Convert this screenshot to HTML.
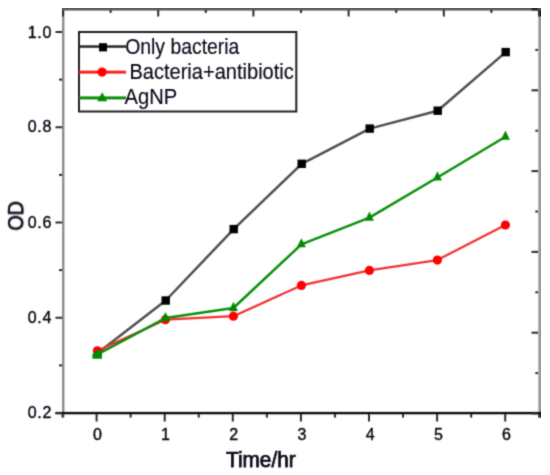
<!DOCTYPE html>
<html><head><meta charset="utf-8"><title>OD vs Time</title>
<style>
html,body{margin:0;padding:0;background:#fff;}
svg{display:block;}
text{font-family:"Liberation Sans",Arial,sans-serif;fill:#0c0818;stroke-linejoin:round;}
.ti{stroke:#0c0818;stroke-width:0.75px;}
.lg{stroke:#0c0818;stroke-width:0.15px;}
.tl{fill:#0a0616;stroke:#0a0616;stroke-width:0.4px;}
</style></head>
<body>
<svg width="550" height="475" viewBox="0 0 550 475">
<rect width="550" height="475" fill="#fff"/>
<defs><filter id="b" x="0" y="0" width="100%" height="100%" color-interpolation-filters="sRGB"><feConvolveMatrix order="3" kernelMatrix="1 4 1 4 16 4 1 4 1" divisor="36" edgeMode="duplicate"/></filter></defs><g filter="url(#b)">
<rect x="62" y="9" width="2.4" height="408.5" fill="#8d8d8d"/>
<rect x="538.3" y="9" width="2.4" height="408.5" fill="#9a9a9a"/>
<rect x="62" y="8.6" width="478.5" height="2" fill="#606060"/>
<rect x="55.5" y="411.9" width="485" height="2.4" fill="#0e0e0e"/>
<rect x="95.6" y="414" width="2" height="7.5" fill="#2c2c2c"/>
<rect x="163.7" y="414" width="2" height="7.5" fill="#2c2c2c"/>
<rect x="231.8" y="414" width="2" height="7.5" fill="#2c2c2c"/>
<rect x="299.9" y="414" width="2" height="7.5" fill="#2c2c2c"/>
<rect x="368" y="414" width="2" height="7.5" fill="#2c2c2c"/>
<rect x="436.1" y="414" width="2" height="7.5" fill="#2c2c2c"/>
<rect x="504.2" y="414" width="2" height="7.5" fill="#2c2c2c"/>
<rect x="61.55" y="414" width="2" height="3.6" fill="#2c2c2c"/>
<rect x="129.65" y="414" width="2" height="3.6" fill="#2c2c2c"/>
<rect x="197.75" y="414" width="2" height="3.6" fill="#2c2c2c"/>
<rect x="265.85" y="414" width="2" height="3.6" fill="#2c2c2c"/>
<rect x="333.95" y="414" width="2" height="3.6" fill="#2c2c2c"/>
<rect x="402.05" y="414" width="2" height="3.6" fill="#2c2c2c"/>
<rect x="470.15" y="414" width="2" height="3.6" fill="#2c2c2c"/>
<rect x="538.25" y="414" width="2" height="3.6" fill="#2c2c2c"/>
<rect x="55.5" y="412" width="6.6" height="2" fill="#2c2c2c"/>
<rect x="55.5" y="316.75" width="6.6" height="2" fill="#2c2c2c"/>
<rect x="55.5" y="221.5" width="6.6" height="2" fill="#2c2c2c"/>
<rect x="55.5" y="126.25" width="6.6" height="2" fill="#2c2c2c"/>
<rect x="55.5" y="31" width="6.6" height="2" fill="#2c2c2c"/>
<rect x="59" y="364.38" width="3.1" height="2" fill="#2c2c2c"/>
<rect x="59" y="269.12" width="3.1" height="2" fill="#2c2c2c"/>
<rect x="59" y="173.88" width="3.1" height="2" fill="#2c2c2c"/>
<rect x="59" y="78.62" width="3.1" height="2" fill="#2c2c2c"/>
<rect x="62" y="10" width="2" height="6.5" fill="#2c2c2c"/>
<rect x="157.2" y="10" width="2" height="6.5" fill="#2c2c2c"/>
<rect x="252.4" y="10" width="2" height="6.5" fill="#2c2c2c"/>
<rect x="347.6" y="10" width="2" height="6.5" fill="#2c2c2c"/>
<rect x="442.8" y="10" width="2" height="6.5" fill="#2c2c2c"/>
<rect x="538" y="10" width="2" height="6.5" fill="#2c2c2c"/>
<rect x="109.6" y="10" width="2" height="3" fill="#2c2c2c"/>
<rect x="204.8" y="10" width="2" height="3" fill="#2c2c2c"/>
<rect x="300" y="10" width="2" height="3" fill="#2c2c2c"/>
<rect x="395.2" y="10" width="2" height="3" fill="#2c2c2c"/>
<rect x="490.4" y="10" width="2" height="3" fill="#2c2c2c"/>
<rect x="531.5" y="8.5" width="6.5" height="2" fill="#2c2c2c"/>
<rect x="531.5" y="89.3" width="6.5" height="2" fill="#2c2c2c"/>
<rect x="531.5" y="170.1" width="6.5" height="2" fill="#2c2c2c"/>
<rect x="531.5" y="250.9" width="6.5" height="2" fill="#2c2c2c"/>
<rect x="531.5" y="331.7" width="6.5" height="2" fill="#2c2c2c"/>
<rect x="531.5" y="412.5" width="6.5" height="2" fill="#2c2c2c"/>
<rect x="535.3" y="48.9" width="2.7" height="2" fill="#2c2c2c"/>
<rect x="535.3" y="129.7" width="2.7" height="2" fill="#2c2c2c"/>
<rect x="535.3" y="210.5" width="2.7" height="2" fill="#2c2c2c"/>
<rect x="535.3" y="291.3" width="2.7" height="2" fill="#2c2c2c"/>
<rect x="535.3" y="372.1" width="2.7" height="2" fill="#2c2c2c"/>
<text x="97.35" y="439.5" text-anchor="middle" font-size="16" class="tl">0</text>
<text x="165.55" y="439.5" text-anchor="middle" font-size="16" class="tl">1</text>
<text x="233.75" y="439.5" text-anchor="middle" font-size="16" class="tl">2</text>
<text x="301.95" y="439.5" text-anchor="middle" font-size="16" class="tl">3</text>
<text x="370.15" y="439.5" text-anchor="middle" font-size="16" class="tl">4</text>
<text x="438.35" y="439.5" text-anchor="middle" font-size="16" class="tl">5</text>
<text x="506.55" y="439.5" text-anchor="middle" font-size="16" class="tl">6</text>
<text x="51.4" y="37.8" text-anchor="end" font-size="16" class="tl" textLength="23.6" lengthAdjust="spacing">1.0</text>
<text x="51.4" y="132.3" text-anchor="end" font-size="16" class="tl" textLength="23.6" lengthAdjust="spacing">0.8</text>
<text x="51.4" y="227.9" text-anchor="end" font-size="16" class="tl" textLength="23.6" lengthAdjust="spacing">0.6</text>
<text x="51.4" y="322.7" text-anchor="end" font-size="16" class="tl" textLength="23.6" lengthAdjust="spacing">0.4</text>
<text x="51.4" y="417.8" text-anchor="end" font-size="16" class="tl" textLength="23.6" lengthAdjust="spacing">0.2</text>
<text x="226" y="466.8" font-size="21.2" class="ti" textLength="69.7" lengthAdjust="spacingAndGlyphs">Time/hr</text>
<text transform="translate(23.1,230.6) rotate(-90)" x="0" y="0" font-size="21.2" class="ti" textLength="29.6" lengthAdjust="spacingAndGlyphs">OD</text>
<polyline points="97.7,353 165.7,300.5 233.7,229.1 301.7,163.8 369.7,128.6 437.7,110.7 505.7,52.1" fill="none" stroke="#4f4f4f" stroke-width="2.5" stroke-linejoin="round"/>
<rect x="161.5" y="296.3" width="8.4" height="8.4" fill="#000"/>
<rect x="229.5" y="224.9" width="8.4" height="8.4" fill="#000"/>
<rect x="297.5" y="159.6" width="8.4" height="8.4" fill="#000"/>
<rect x="365.5" y="124.4" width="8.4" height="8.4" fill="#000"/>
<rect x="433.5" y="106.5" width="8.4" height="8.4" fill="#000"/>
<rect x="501.5" y="47.9" width="8.4" height="8.4" fill="#000"/>
<polyline points="97.4,350.8 165.4,319.7 233.4,316.2 301.4,285.4 369.4,270.4 437.4,260.1 505.4,225" fill="none" stroke="#f23030" stroke-width="2.2" stroke-linejoin="round"/>
<circle cx="97.4" cy="350.8" r="4.6" fill="#ff0000"/>
<circle cx="165.4" cy="319.7" r="4.6" fill="#ff0000"/>
<circle cx="233.4" cy="316.2" r="4.6" fill="#ff0000"/>
<circle cx="301.4" cy="285.4" r="4.6" fill="#ff0000"/>
<circle cx="369.4" cy="270.4" r="4.6" fill="#ff0000"/>
<circle cx="437.4" cy="260.1" r="4.6" fill="#ff0000"/>
<circle cx="505.4" cy="225" r="4.6" fill="#ff0000"/>
<polyline points="97.4,354.5 165.4,318.1 233.4,308 301.4,244.3 369.4,217.7 437.4,177.5 505.4,136.7" fill="none" stroke="#0a8f0a" stroke-width="2.5" stroke-linejoin="round"/>
<polygon points="165.4,311.97 169.9,321.17 160.9,321.17" fill="#008a00"/>
<polygon points="233.4,301.87 237.9,311.07 228.9,311.07" fill="#008a00"/>
<polygon points="301.4,238.17 305.9,247.37 296.9,247.37" fill="#008a00"/>
<polygon points="369.4,211.57 373.9,220.77 364.9,220.77" fill="#008a00"/>
<polygon points="437.4,171.37 441.9,180.57 432.9,180.57" fill="#008a00"/>
<polygon points="505.4,130.57 509.9,139.77 500.9,139.77" fill="#008a00"/>
<polygon points="97.1,349.5 102,352.6 102,358.7 92.4,358.7 92.4,354.6" fill="#008a00"/>
<rect x="79" y="32" width="217.3" height="79.5" fill="none" stroke="#1e1e1e" stroke-width="2"/>
<rect x="79" y="45.3" width="47" height="2.5" fill="#262626"/>
<rect x="99" y="43.2" width="8" height="8.2" fill="#000"/>
<rect x="79" y="70.7" width="47" height="2.9" fill="#ff1c1c"/>
<circle cx="102.1" cy="72.1" r="4.6" fill="#ff0000"/>
<rect x="79" y="96.4" width="47" height="3" fill="#0a8f0a"/>
<polygon points="102.2,92.2 107.2,101.2 97.2,101.2" fill="#008a00"/>
<text transform="translate(125.2,53.7) scale(1,1.08)" x="0" y="0" font-size="20.5" textLength="114.2" lengthAdjust="spacingAndGlyphs" class="lg">Only bacteria</text>
<text transform="translate(129.4,78.6) scale(1,1.08)" x="0" y="0" font-size="20.5" textLength="164.4" lengthAdjust="spacingAndGlyphs" class="lg">Bacteria+antibiotic</text>
<text transform="translate(124.6,104.4) scale(1,1.08)" x="0" y="0" font-size="20.5" textLength="52.6" lengthAdjust="spacingAndGlyphs" class="lg">AgNP</text>
</g>

</svg>
</body></html>
